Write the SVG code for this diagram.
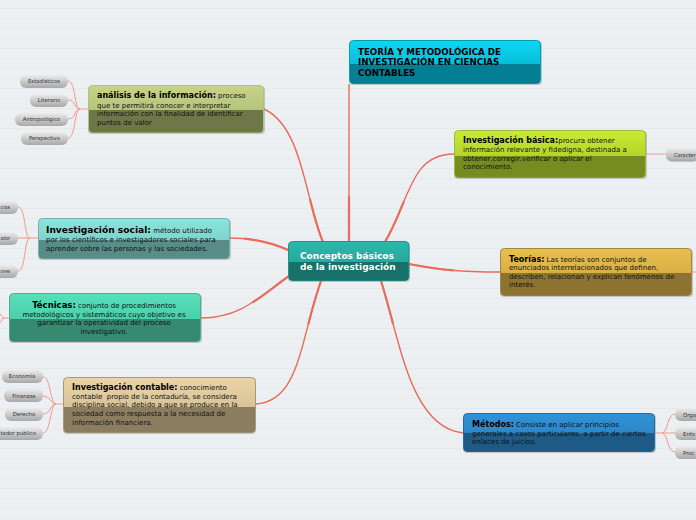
<svg xmlns="http://www.w3.org/2000/svg" width="696" height="520" viewBox="0 0 696 520">
<defs>
<style>
text{font-family:"DejaVu Sans","Liberation Sans",sans-serif;fill:#111}
.b{font-weight:700;font-size:8px;fill:#000}
.b2{font-weight:700;font-size:9.1px;fill:#000}
.b3{font-weight:700;font-size:8.5px;fill:#000}
.t{font-size:7px}
.h{font-weight:700;font-size:9px;fill:#fff}
.k{font-weight:700;font-size:8.7px;fill:#000}
.p{font-size:5.4px;fill:#333;text-anchor:middle}
.e{font-size:5.4px;fill:#333}
.c{text-anchor:middle}
.s{fill:#8a9090;opacity:.45}
.pill{fill:url(#gp)}
.m{fill:none;stroke:#ea6b5c;stroke-width:1.4}
.m2{fill:none;stroke:#ea6b5c;stroke-width:2.2;stroke-dasharray:45 999}
.l{fill:none;stroke:#f5978a;stroke-width:1}
</style>
<pattern id="bg" width="10" height="10" patternUnits="userSpaceOnUse"><rect width="10" height="10" fill="#ecf0f2"/><rect y="8" width="10" height="1" fill="#e5e9ea"/></pattern>
<linearGradient id="gp" x1="0" y1="0" x2="0" y2="1"><stop offset="0" stop-color="#ececec"/><stop offset="1" stop-color="#a8a8a8"/></linearGradient>
<linearGradient id="g0" x1="0" y1="0" x2="0" y2="1"><stop offset="0" stop-color="#2cb8ab"/><stop offset="1" stop-color="#209c90"/></linearGradient>
<linearGradient id="g1" x1="0" y1="0" x2="0" y2="1"><stop offset="0" stop-color="#0bd8f4"/><stop offset="1" stop-color="#05a9c3"/></linearGradient>
<linearGradient id="g2" x1="0" y1="0" x2="0" y2="1"><stop offset="0" stop-color="#c9ec30"/><stop offset="1" stop-color="#a2c02a"/></linearGradient>
<linearGradient id="g3" x1="0" y1="0" x2="0" y2="1"><stop offset="0" stop-color="#e9c04c"/><stop offset="1" stop-color="#c8a040"/></linearGradient>
<linearGradient id="g4" x1="0" y1="0" x2="0" y2="1"><stop offset="0" stop-color="#2f92d8"/><stop offset="1" stop-color="#2a7cb6"/></linearGradient>
<linearGradient id="g5" x1="0" y1="0" x2="0" y2="1"><stop offset="0" stop-color="#c6d388"/><stop offset="1" stop-color="#a9b670"/></linearGradient>
<linearGradient id="g6" x1="0" y1="0" x2="0" y2="1"><stop offset="0" stop-color="#8be5db"/><stop offset="1" stop-color="#72c6c0"/></linearGradient>
<linearGradient id="g7" x1="0" y1="0" x2="0" y2="1"><stop offset="0" stop-color="#55e1b9"/><stop offset="1" stop-color="#45bf9c"/></linearGradient>
<linearGradient id="g8" x1="0" y1="0" x2="0" y2="1"><stop offset="0" stop-color="#ebd4a7"/><stop offset="1" stop-color="#c8b48c"/></linearGradient>
</defs>
<rect id="background" width="696" height="520" fill="url(#bg)"/>
<g id="connectors">
<path class="m" d="M349 241L349 84"/><path class="m2" d="M349 241L349 84"/>
<path class="m" d="M323 242C305 200 303 127 264 109"/><path class="m2" d="M323 242C305 200 303 127 264 109"/>
<path class="m" d="M385 242C410 200 410 154 454 154"/><path class="m2" d="M385 242C410 200 410 154 454 154"/>
<path class="m" d="M409 264C440 270 460 272 500 272"/><path class="m2" d="M409 264C440 270 460 272 500 272"/>
<path class="m" d="M381 281C400 340 410 427 463 433"/><path class="m2" d="M381 281C400 340 410 427 463 433"/>
<path class="m" d="M321 281C300 340 300 401 256 404"/><path class="m2" d="M321 281C300 340 300 401 256 404"/>
<path class="m" d="M289 276C258 298 240 318 201 318"/><path class="m2" d="M289 276C258 298 240 318 201 318"/>
<path class="m" d="M288 250C270 242 250 238 230 238"/><path class="m2" d="M288 250C270 242 250 238 230 238"/>
<path class="l" d="M88 109H80C74 109 76 81 68 81M80 109C74 109 76 100 68 100M80 109C74 109 76 119 68 119M80 109C74 109 76 138 68 138"/>
<path class="l" d="M38 238H30C24 238 26 207 18 207M30 238H18M30 238C24 238 26 271 18 271"/>
<path class="l" d="M9 318L4 318C2 318 2 315 0 314M4 318C2 318 2 321 0 323"/>
<path class="l" d="M63 404H56C50 404 51 377 43 377M56 404C50 404 51 396 43 396M56 404C50 404 51 414 43 414M56 404C50 404 51 433 43 433"/>
<path class="l" d="M655 433H662C668 433 667 414 675 414M662 433H675M662 433C668 433 667 452 675 452"/>
<path class="l" d="M646 154H666"/>
<path class="l" d="M692 272H696"/>
</g>
<g id="node-central"><rect class="s" x="288" y="242" width="122" height="40" rx="4"/><rect x="288.500" y="241.500" width="120.500" height="39" rx="4" fill="url(#g0)" stroke="#2a8f88"/><path d="M289 262H408.500V276.500a4 4 0 0 1-4 4H293a4 4 0 0 1-4-4Z" fill="#18706a"/><text class="h" x="300" y="259">Conceptos básicos</text><text class="h" x="300" y="270">de la investigación</text></g>
<g id="node-teoria"><rect class="s" x="349" y="41" width="193" height="44" rx="4"/><rect x="349.500" y="40.500" width="191" height="43" rx="4" fill="url(#g1)" stroke="#089bb0"/><path d="M350 64H540V79.500a4 4 0 0 1-4 4H354a4 4 0 0 1-4-4Z" fill="#047e92"/><text class="k" x="358" y="55">TEORÍA Y METODOLÓGICA DE</text><text class="k" x="358" y="65">INVESTIGACIÓN EN CIENCIAS</text><text class="k" x="358" y="76">CONTABLES</text></g>
<g id="node-basica"><rect class="s" x="454" y="131" width="193" height="48" rx="4"/><rect x="454.500" y="130.500" width="191" height="47" rx="4" fill="url(#g2)" stroke="#a0b840"/><path d="M455 156H645V173.500a4 4 0 0 1-4 4H459a4 4 0 0 1-4-4Z" fill="#768b20"/><text x="463" y="143"><tspan class="b">Investigación básica:</tspan><tspan class="t">procura obtener</tspan></text><text class="t" x="463" y="152">información relevante y fidedigna, destinada a</text><text class="t" x="463" y="161">obtener,corregir,verificar o aplicar el</text><text class="t" x="463" y="169">conocimiento.</text><g><rect class="s" x="666" y="149" width="32" height="13" rx="6"/><rect class="pill" x="666" y="148" width="34" height="13" rx="6"/><text class="e" x="674" y="156.500" textLength="21.500" lengthAdjust="spacingAndGlyphs">Caracter</text></g></g>
<g id="node-teorias"><rect class="s" x="500" y="249" width="193" height="48" rx="4"/><rect x="500.500" y="248.500" width="191" height="47" rx="4" fill="url(#g3)" stroke="#a08a40"/><path d="M501 273H691V291.500a4 4 0 0 1-4 4H505a4 4 0 0 1-4-4Z" fill="#8c7330"/><text x="509" y="262"><tspan class="b">Teorías:</tspan><tspan class="t"> Las teorías son conjuntos de</tspan></text><text class="t" x="509" y="270">enunciados interrelacionados que definen,</text><text class="t" x="509" y="279">describen, relacionan y explican fenómenos de</text><text class="t" x="509" y="287">interés.</text></g>
<g id="node-metodos"><rect class="s" x="463" y="414" width="193" height="39" rx="4"/><rect x="463.500" y="413.500" width="191" height="38" rx="4" fill="url(#g4)" stroke="#2a6a98"/><path d="M464 433H654V447.500a4 4 0 0 1-4 4H468a4 4 0 0 1-4-4Z" fill="#1d5a85"/><text x="472" y="427"><tspan class="b">Métodos:</tspan><tspan class="t"> Consiste en aplicar principios</tspan></text><text class="t" x="472" y="436">generales a casos particulares, a partir de ciertos</text><text class="t" x="472" y="444">enlaces de juicios.</text>
<rect class="pill" x="675" y="408" width="30" height="13" rx="6"/><text class="e" x="683" y="416.500">Orga</text><rect class="pill" x="675" y="427" width="30" height="13" rx="6"/><text class="e" x="683" y="435.500">Enfo</text><rect class="pill" x="675" y="446" width="30" height="13" rx="6"/><text class="e" x="683" y="454.500">Proc</text></g>
<g id="node-analisis"><rect class="s" x="88" y="86" width="177" height="48" rx="4"/><rect x="88.500" y="85.500" width="175" height="47" rx="4" fill="url(#g5)" stroke="#b5c080"/><path d="M89 110H263V128.500a4 4 0 0 1-4 4H93a4 4 0 0 1-4-4Z" fill="#6f7748"/><text x="97" y="98"><tspan class="b">análisis de la información:</tspan><tspan class="t"> proceso</tspan></text><text class="t" x="97" y="108">que te permitirá conocer e interpretar</text><text class="t" x="97" y="116">información con la finalidad de identificar</text><text class="t" x="97" y="125">puntos de valor</text>
<rect class="pill" x="20" y="75" width="48" height="13" rx="6"/><text class="p" x="44" y="83">Estadísticos</text><rect class="pill" x="30" y="94" width="38" height="13" rx="6"/><text class="p" x="49" y="102">Literario</text><rect class="pill" x="15" y="113" width="53" height="13" rx="6"/><text class="p" x="41.500" y="121">Antropológico</text><rect class="pill" x="21" y="132" width="47" height="13" rx="6"/><text class="p" x="44.500" y="140">Perspectivo</text></g>
<g id="node-social"><rect class="s" x="38" y="219" width="193" height="41" rx="4"/><rect x="38.500" y="218.500" width="191" height="40" rx="4" fill="url(#g6)" stroke="#7ab0ac"/><path d="M39 240H229V254.500a4 4 0 0 1-4 4H43a4 4 0 0 1-4-4Z" fill="#578c88"/><text x="46" y="233"><tspan class="b2">Investigación social:</tspan><tspan class="t">  método utilizado</tspan></text><text class="t" x="46" y="242">por los científicos e investigadores sociales para</text><text class="t" x="46" y="251">aprender sobre las personas y las sociedades.</text>
<rect class="pill" x="-14" y="201" width="32" height="13" rx="6"/><text class="e" x="0.500" y="208.500" textLength="9.500" lengthAdjust="spacingAndGlyphs">cias</text><rect class="pill" x="-14" y="232" width="32" height="13" rx="6"/><text class="e" x="0.500" y="239.500" textLength="9.500" lengthAdjust="spacingAndGlyphs">ador</text><rect class="pill" x="-14" y="265" width="32" height="13" rx="6"/><text class="e" x="0.500" y="272.500" textLength="9.500" lengthAdjust="spacingAndGlyphs">ones</text></g>
<g id="node-tecnicas"><rect class="s" x="9" y="294" width="193" height="49" rx="4"/><rect x="9.500" y="293.500" width="191" height="48" rx="4" fill="url(#g7)" stroke="#55aa90"/><path d="M10 319H200V337.500a4 4 0 0 1-4 4H14a4 4 0 0 1-4-4Z" fill="#358a70"/><text class="c" x="104" y="308"><tspan class="b3">Técnicas:</tspan><tspan class="t"> conjunto de procedimientos</tspan></text><text class="t c" x="104" y="317">metodológicos y sistemáticos cuyo objetivo es</text><text class="t c" x="104" y="325">garantizar la operatividad del proceso</text><text class="t c" x="104" y="334">investigativo.</text></g>
<g id="node-contable"><rect class="s" x="63" y="378" width="193" height="56" rx="4"/><rect x="63.500" y="377.500" width="192" height="55" rx="4" fill="url(#g8)" stroke="#a89a78"/><path d="M64 407H255V428.500a4 4 0 0 1-4 4H68a4 4 0 0 1-4-4Z" fill="#8b7d60"/><text x="72" y="390"><tspan class="b">Investigación contable:</tspan><tspan class="t"> conocimiento</tspan></text><text class="t" x="72" y="399" xml:space="preserve">contable  propio de la contaduría, se considera</text><text class="t" x="72" y="407">disciplina social, debido a que se produce en la</text><text class="t" x="72" y="416">sociedad como respuesta a la necesidad de</text><text class="t" x="72" y="425">información financiera.</text>
<rect class="pill" x="2" y="370" width="41" height="13" rx="6"/><text class="p" x="22" y="378">Economía</text><rect class="pill" x="4" y="389" width="39" height="13" rx="6"/><text class="p" x="24" y="397.500">Finanzas</text><rect class="pill" x="5" y="408" width="38" height="13" rx="6"/><text class="p" x="24" y="416">Derecho</text><rect class="pill" x="-14" y="427" width="57" height="13" rx="6"/><text class="e" x="0.500" y="435" textLength="35.500" lengthAdjust="spacingAndGlyphs">tador publico</text></g>
</svg>
